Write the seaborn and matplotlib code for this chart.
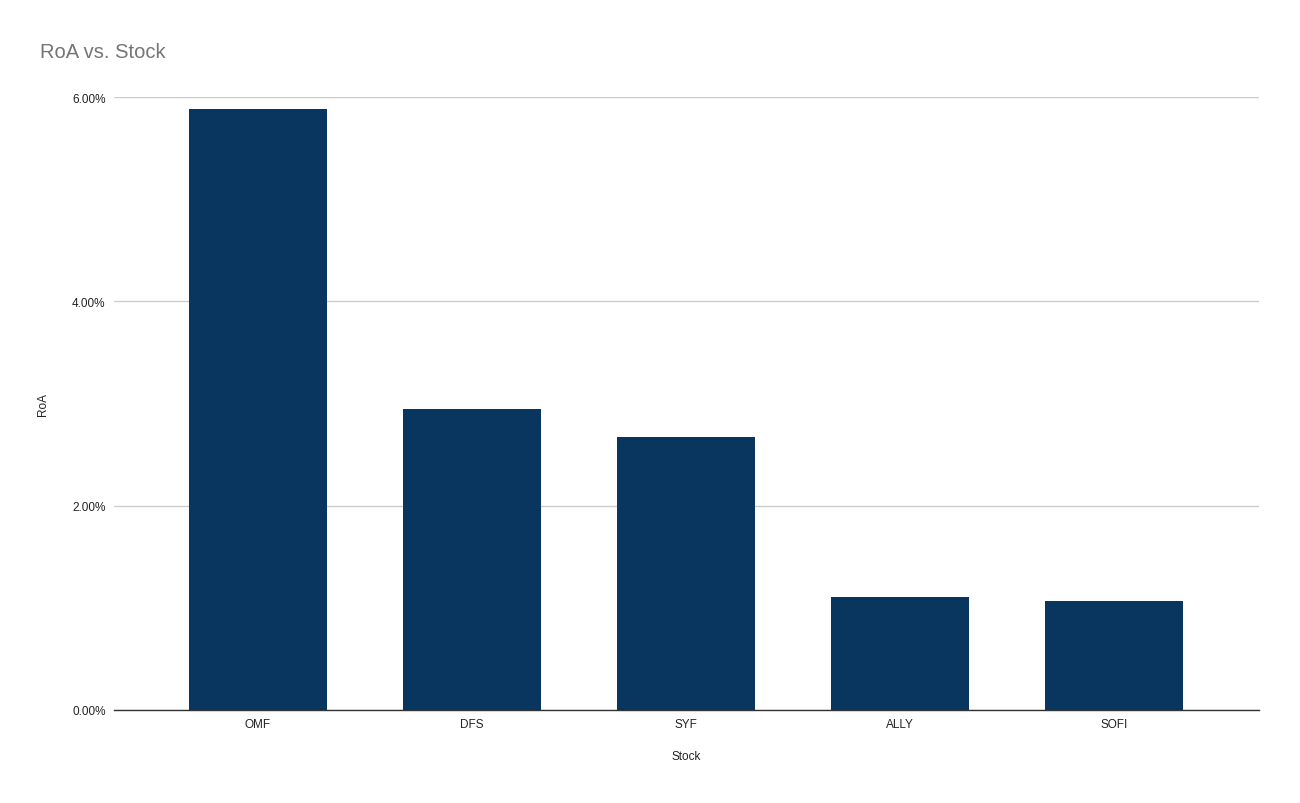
import pandas as pd
import seaborn as sns
import matplotlib.pyplot as plt
from matplotlib.ticker import FuncFormatter

# Data
stocks = ['OMF', 'DFS', 'SYF', 'ALLY', 'SOFI']
roa = [0.0588, 0.0295, 0.0267, 0.0111, 0.0107]

df = pd.DataFrame({'Stock': stocks, 'RoA': roa})

sns.set_style('white')
plt.rcParams['font.family'] = ['Liberation Sans', 'DejaVu Sans']

fig = plt.figure(figsize=(13, 8.04), dpi=100)
ax = fig.add_axes([0.0877, 0.1157, 0.8808, 0.7623])

sns.barplot(data=df, x='Stock', y='RoA', color='#09365f', width=0.648,
            saturation=1, linewidth=0, ax=ax, zorder=3)

ax.set_ylim(0, 0.06)
ax.set_xlim(-0.673, 4.677)
ax.set_yticks([0, 0.02, 0.04, 0.06])
ax.yaxis.set_major_formatter(FuncFormatter(lambda v, p: f'{v * 100:.2f}%'))
ax.grid(axis='y', color='#cccccc', linewidth=1, zorder=0)

for s in ['top', 'right', 'left']:
    ax.spines[s].set_visible(False)
ax.spines['bottom'].set_color('#333333')
ax.spines['bottom'].set_linewidth(1)
ax.tick_params(axis='both', length=0, labelsize=8.5, colors='#222222')
ax.tick_params(axis='y', pad=6)
ax.tick_params(axis='x', pad=6)

ax.set_xlabel('Stock', fontsize=8.5, color='#222222', labelpad=14)
ax.set_ylabel('RoA', fontsize=8.5, color='#222222', labelpad=17)

fig.text(0.031, 0.928, 'RoA vs. Stock', fontsize=14.5, color='#757575')

fig.savefig('out.png', dpi=100, facecolor='white')
